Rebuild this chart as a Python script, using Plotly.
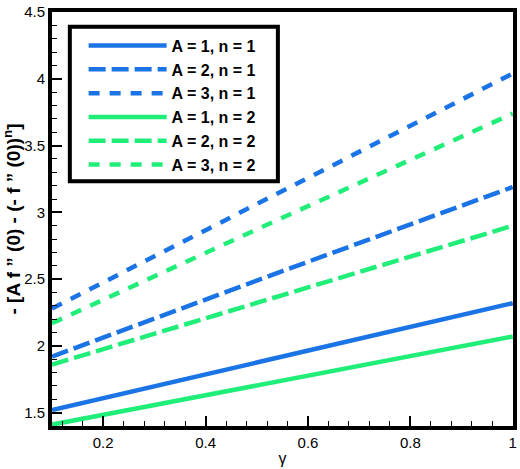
import plotly.graph_objects as go

# gamma values where the curves were read
gamma = [0.1, 0.55, 1.0]

# skin friction curves
a1_n1 = [1.52, 1.92, 2.32]
a2_n1 = [1.92, 2.56, 3.19]
a3_n1 = [2.28, 3.16, 4.04]
a1_n2 = [1.41, 1.74, 2.07]
a2_n2 = [1.86, 2.38, 2.90]
a3_n2 = [2.17, 2.96, 3.74]

names = ["A = 1, n = 1", "A = 2, n = 1", "A = 3, n = 1",
         "A = 1, n = 2", "A = 2, n = 2", "A = 3, n = 2"]
series = [a1_n1, a2_n1, a3_n1, a1_n2, a2_n2, a3_n2]

blue = "#1b74e6"
green = "#20ee78"
colors = [blue, blue, blue, green, green, green]
dashes = ["solid", "17px,6px", "11px,10px", "solid", "17px,6px", "11px,10px"]

fig = go.Figure()
for i in range(len(series)):
    fig.add_trace(go.Scatter(x=gamma, y=series[i], name=names[i], mode="lines",
                             line=dict(color=colors[i], width=4.5, dash=dashes[i])))

axis_font = dict(family="Liberation Sans, Arial, sans-serif", size=15, color="black")

# legend frame drawn as a box, legend itself sits inside it
fig.add_shape(type="rect", xref="paper", yref="paper",
              x0=0.0387, x1=0.490, y0=0.591, y1=0.9645,
              line=dict(color="black", width=4), fillcolor="white", layer="below")

fig.update_layout(
    width=520, height=469,
    margin=dict(l=52, r=3, t=5, b=41),
    plot_bgcolor="white", paper_bgcolor="white",
    font=axis_font,
    legend=dict(x=0.0686, y=0.775, xanchor="left", yanchor="middle",
                borderwidth=0, bgcolor="rgba(0,0,0,0)",
                itemwidth=78, tracegroupgap=0,
                font=dict(family="Liberation Sans, Arial, sans-serif", size=16,
                          color="black", weight="bold")),
    xaxis=dict(range=[0.1, 1.0005], tickvals=[0.2, 0.4, 0.6, 0.8, 1.0],
               ticktext=["0.2", "0.4", "0.6", "0.8", "1"],
               showgrid=False, zeroline=False, ticklabeloverflow="allow",
               showline=True, linecolor="black", linewidth=4, mirror=True,
               ticks="inside", ticklen=10, tickwidth=2, tickcolor="black",
               minor=dict(dtick=0.04, tick0=0.0, ticks="inside", ticklen=5,
                          tickwidth=1, tickcolor="black"),
               title=dict(text="γ", standoff=4, font=dict(size=16))),
    yaxis=dict(range=[1.4, 4.501], tickvals=[1.5, 2, 2.5, 3, 3.5, 4, 4.5],
               ticktext=["1.5", "2", "2.5", "3", "3.5", "4", "4.5"],
               showgrid=False, zeroline=False, ticklabeloverflow="allow",
               showline=True, linecolor="black", linewidth=4, mirror=True,
               ticks="inside", ticklen=10, tickwidth=2, tickcolor="black",
               minor=dict(dtick=0.1, tick0=0.0, ticks="inside", ticklen=5,
                          tickwidth=1, tickcolor="black"),
               title=dict(text="- [A f ” (0) - (- f ” (0))<sup>n</sup>]", standoff=4,
                          font=dict(size=19, weight="bold"))),
)

# drop the default page margin so the 520x469 figure fills the window
fig.write_html("out.html", config={"displayModeBar": False},
               post_script="document.body.style.margin='0';")
